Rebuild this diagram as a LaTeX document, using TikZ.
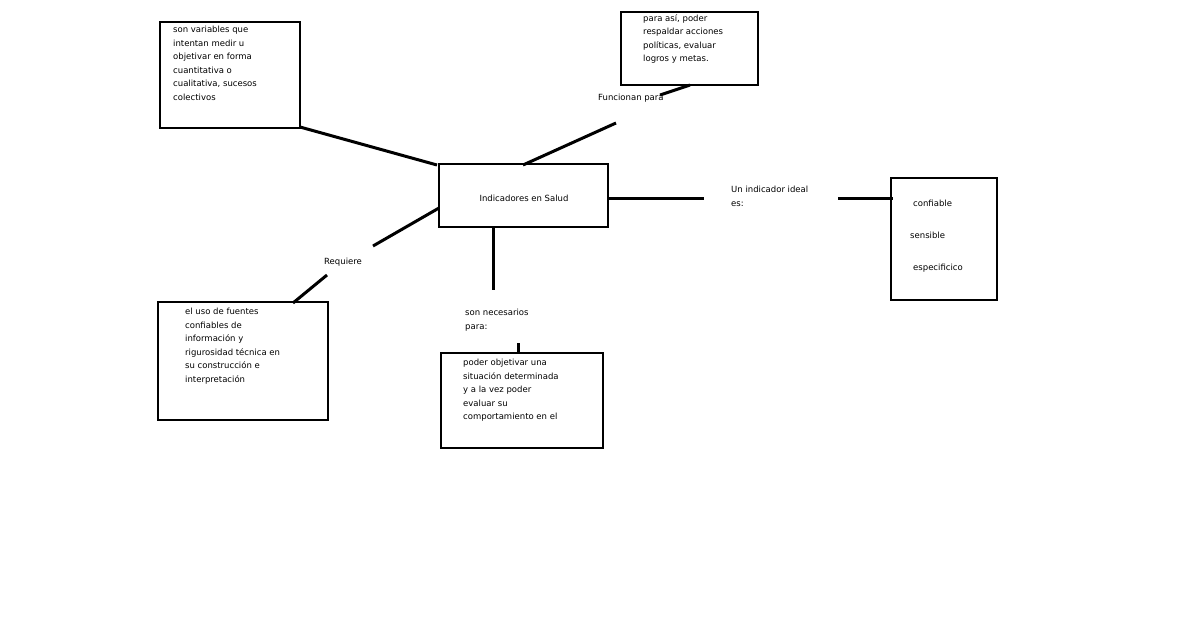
\documentclass[tikz,border=0pt]{standalone}
\usepackage{fontspec}
\setmainfont{DejaVu Sans}
\begin{document}
\begin{tikzpicture}[x=1pt,y=-1pt,
  box/.style={draw,line width=2.6pt},
  txt/.style={font=\fontsize{8.5}{13.5}\selectfont,align=left,anchor=north west,inner sep=0pt},
  ln/.style={line width=3pt}]
\useasboundingbox[fill=white] (0,0) rectangle (1200,630);
\draw[box] (160,22) rectangle (300,128) coordinate (tlb);
\node[txt] (tl) at (173,26) {son variables que\\intentan medir u\\objetivar en forma\\cuantitativa o\\cualitativa, sucesos\\colectivos};
\draw[box] (621,12) rectangle (758,85);
\node[txt] (tr) at (643,14) {para así, poder\\respaldar acciones\\políticas, evaluar\\logros y metas.};
\draw[box] (439,164) rectangle (608,227);
\node[font=\fontsize{8.5}{10}\selectfont] (c) at (524,198) {Indicadores en Salud};
\draw[box] (891,178) rectangle (997,300);
\node[txt] (r1) at (913,200) {confiable};
\node[txt] (r2) at (910,232) {sensible};
\node[txt] (r3) at (913,264) {especificico};
\draw[box] (158,302) rectangle (328,420);
\node[txt] (bl) at (185,308) {el uso de fuentes\\confiables de\\información y\\rigurosidad técnica en\\su construcción e\\interpretación};
\draw[box] (441,353) rectangle (603,448);
\node[txt] (bc) at (463,359) { poder objetivar una\\situación determinada\\y a la vez poder\\evaluar su\\comportamiento en el};
\node[txt] (l1) at (598,94) {Funcionan para};
\node[txt] (l2) at (731,186) {Un indicador ideal\\es:};
\node[txt] (l3) at (324,258) {Requiere};
\node[txt] (l4) at (465,309) {son necesarios\\para:};
\coordinate (a1) at (300,127); \coordinate (a2) at (437,165);
\coordinate (b1) at (523,165); \coordinate (b2) at (616,123);
\coordinate (c1) at (660,95); \coordinate (c2) at (690,85);
\coordinate (d1) at (608,198); \coordinate (d2) at (704,198);
\coordinate (e1) at (838,198); \coordinate (e2) at (893,198);
\coordinate (f1) at (439,208); \coordinate (f2) at (373,246);
\coordinate (g1) at (327,275); \coordinate (g2) at (293,303);
\coordinate (h1) at (493,228); \coordinate (h2) at (493,290);
\coordinate (i1) at (518,343); \coordinate (i2) at (518,353);
\foreach \p in {a,b,c,d,e,f,g,h,i} \draw[ln] (\p1) -- (\p2);
\end{tikzpicture}
\end{document}
